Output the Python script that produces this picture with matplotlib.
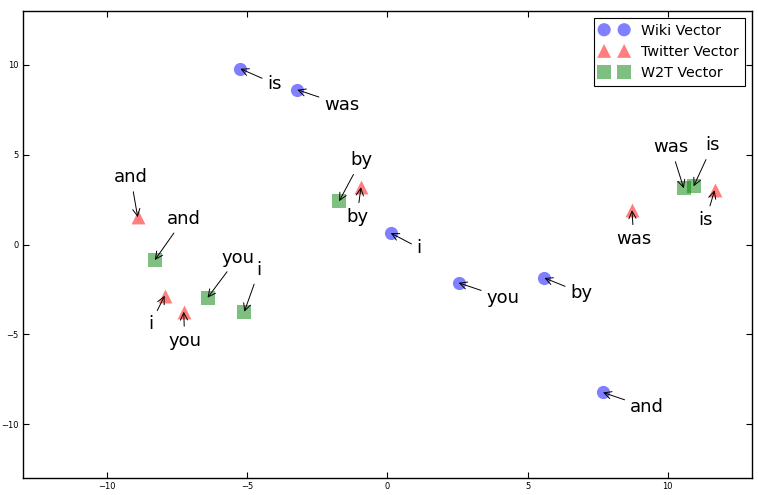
import matplotlib
matplotlib.use('Agg')
import matplotlib.pyplot as plt

# word labels and 2-D positions
wiki_words = ['is', 'was', 'i', 'you', 'by', 'and']
wiki_x = [-5.24, -3.21, 0.12, 2.54, 5.60, 7.69]
wiki_y = [9.78, 8.61, 0.64, -2.13, -1.86, -8.23]

twitter_words = ['and', 'i', 'you', 'by', 'was', 'is']
twitter_x = [-8.90, -7.94, -7.26, -0.94, 8.72, 11.67]
twitter_y = [1.52, -2.85, -3.74, 3.19, 1.91, 3.02]

w2t_words = ['and', 'you', 'i', 'by', 'was', 'is']
w2t_x = [-8.29, -6.41, -5.10, -1.72, 10.57, 10.92]
w2t_y = [-0.86, -2.96, -3.74, 2.41, 3.13, 3.24]

# label offsets in pixels (text centre relative to the point)
wiki_off = [(27, -15), (27, -15), (26, -15), (28, -15), (26, -15), (27, -15)]
twitter_off = [(-7, 40), (-14, -28), (1, -29), (-4, -30), (2, -29), (-9, -30)]
w2t_off = [(29, 41), (30, 40), (15, 42), (22, 41), (-13, 41), (19, 41)]

fig = plt.figure(figsize=(7.58, 4.95), dpi=100)
ax = fig.add_axes([0.030, 0.034, 0.962, 0.944])

ax.scatter(wiki_x, wiki_y, s=90, c='b', marker='o', alpha=0.5,
           linewidths=0, label='Wiki Vector', zorder=2)
ax.scatter(twitter_x, twitter_y, s=100, c='r', marker='^', alpha=0.5,
           linewidths=0, label='Twitter Vector', zorder=2)
ax.scatter(w2t_x, w2t_y, s=100, c='g', marker='s', alpha=0.5,
           linewidths=0, label='W2T Vector', zorder=2)

arrow = dict(arrowstyle='->', color='black', lw=0.7, shrinkA=2, shrinkB=0)

for w, x, y, (dx, dy) in zip(wiki_words, wiki_x, wiki_y, wiki_off):
    ax.annotate(w, xy=(x, y), xytext=(dx, dy), textcoords='offset pixels',
                ha='left', va='center', fontsize=13, arrowprops=arrow)

for w, x, y, (dx, dy) in zip(twitter_words, twitter_x, twitter_y, twitter_off):
    ax.annotate(w, xy=(x, y), xytext=(dx, dy), textcoords='offset pixels',
                ha='center', va='center', fontsize=13, arrowprops=arrow)

for w, x, y, (dx, dy) in zip(w2t_words, w2t_x, w2t_y, w2t_off):
    ax.annotate(w, xy=(x, y), xytext=(dx, dy), textcoords='offset pixels',
                ha='center', va='center', fontsize=13, arrowprops=arrow)

ax.set_xlim(-13, 13)
ax.set_ylim(-13, 13)
ax.set_xticks([-10, -5, 0, 5, 10])
ax.set_yticks([-10, -5, 0, 5, 10])
ax.tick_params(direction='in', top=True, right=True, labelsize=6,
               length=4, width=0.8, pad=3)
for sp in ax.spines.values():
    sp.set_linewidth(1.0)
    sp.set_color('black')

leg = ax.legend(loc='upper right', scatterpoints=2, scatteryoffsets=[0.5],
                fontsize=10.3, fancybox=False, framealpha=1,
                edgecolor='black', borderaxespad=0.5, handletextpad=0.9)
leg.get_frame().set_linewidth(0.8)

fig.savefig('out.png', dpi=100)
